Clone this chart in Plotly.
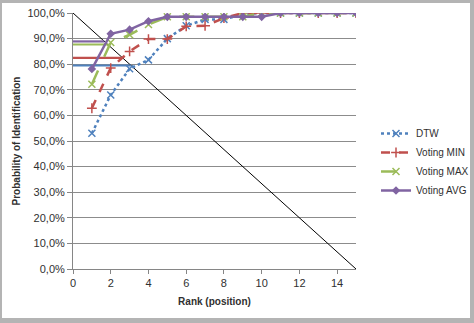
import plotly.graph_objects as go

# Rank positions and identification rates per method
ranks = list(range(1, 16))
dtw = [0.530, 0.680, 0.782, 0.817, 0.900, 0.950, 0.975, 0.975, 0.995, 1.0, 1.0, 1.0, 1.0, 1.0, 1.0]
voting_min = [0.628, 0.785, 0.850, 0.898, 0.898, 0.948, 0.950, 0.980, 1.0, 1.0, 1.0, 1.0, 1.0, 1.0, 1.0]
voting_max = [0.722, 0.885, 0.915, 0.955, 0.985, 0.985, 0.985, 0.985, 0.985, 1.0, 1.0, 1.0, 1.0, 1.0, 1.0]
voting_avg = [0.781, 0.919, 0.935, 0.968, 0.985, 0.985, 0.985, 0.985, 0.985, 0.985, 1.0, 1.0, 1.0, 1.0, 1.0]

# Crossing level of each curve with the diagonal reference line
crossing = {"DTW": 0.795, "Voting MIN": 0.825, "Voting MAX": 0.877, "Voting AVG": 0.889}

# Diagonal reference from (0, 100%) to (15, 0%)
diag_x = [0, 15]
diag_y = [1.0, 0.0]

x_ticks = [0, 2, 4, 6, 8, 10, 12, 14]
y_ticks = [i / 10 for i in range(11)]
y_tick_text = [f"{i * 10},0%" for i in range(11)]

colors = {
    "DTW": "#4F81BD",
    "Voting MIN": "#C0504D",
    "Voting MAX": "#9BBB59",
    "Voting AVG": "#8064A2",
}

fig = go.Figure()

fig.add_trace(go.Scatter(x=diag_x, y=diag_y, mode="lines",
                         line=dict(color="black", width=1), showlegend=False,
                         hoverinfo="skip"))

# Horizontal guide lines up to the diagonal
for name, v in crossing.items():
    fig.add_trace(go.Scatter(x=[0, (1 - v) * 15], y=[v, v], mode="lines",
                             line=dict(color=colors[name], width=2.2),
                             showlegend=False, hoverinfo="skip"))

series = [
    ("DTW", dtw, "dot", "x-thin-open", 7),
    ("Voting MIN", voting_min, "dash", "cross-thin-open", 7),
    ("Voting MAX", voting_max, "longdash", "x-thin-open", 7),
    ("Voting AVG", voting_avg, "solid", "diamond", 5),
]
for name, vals, dash, sym, size in series:
    fig.add_trace(go.Scatter(
        x=ranks, y=vals, mode="lines+markers", name=name,
        line=dict(color=colors[name], width=2.5, dash=dash),
        marker=dict(symbol=sym, size=size, color=colors[name],
                    line=dict(color=colors[name], width=1.5)),
    ))

L, R, T, B = 73, 118, 13, 54
W, H = 474, 323
pw, ph = W - L - R, H - T - B

# Grey frame around the chart area
frame = "#b4b4b4"
def px2x(p):
    return (p - L) / pw
def px2y(p):
    return 1 - (p - T) / ph
for x0, y0, x1, y1 in [(0, 0, W, 3), (0, 318, W, H), (470, 0, W, H), (0, 0, 2, H)]:
    fig.add_shape(type="rect", xref="paper", yref="paper",
                  x0=px2x(x0), x1=px2x(x1), y0=px2y(y1), y1=px2y(y0),
                  fillcolor=frame, line=dict(width=0), layer="above")

font_family = "Liberation Sans, Arial, sans-serif"
fig.update_layout(
    width=W, height=H,
    margin=dict(l=L, r=R, t=T, b=B, autoexpand=False),
    paper_bgcolor="white", plot_bgcolor="white",
    font=dict(family=font_family, size=10, color="#303030"),
    legend=dict(x=px2x(376), y=px2y(162), xanchor="left", yanchor="middle",
                font=dict(size=10, color="#303030"), itemwidth=30,
                bgcolor="rgba(0,0,0,0)", tracegroupgap=0),
    xaxis=dict(range=[0, 15], tickvals=x_ticks, ticks="outside", ticklen=4,
               tickcolor="#868686", showline=True, linecolor="#868686",
               linewidth=1, showgrid=False, zeroline=False,
               tickfont=dict(size=11),
               title=dict(text="<b>Rank (position)</b>", font=dict(size=10),
                          standoff=9)),
    yaxis=dict(range=[0, 1], tickvals=y_ticks, ticktext=y_tick_text,
               ticks="outside", ticklen=5, tickcolor="#868686",
               showline=True, linecolor="#868686", linewidth=1,
               showgrid=True, gridcolor="#8c8c8c", gridwidth=1, zeroline=False,
               tickfont=dict(size=11),
               title=dict(text="<b>Probability of Identification</b>",
                          font=dict(size=10), standoff=4)),
)

fig.write_html("out.html", config={"displayModeBar": False})
